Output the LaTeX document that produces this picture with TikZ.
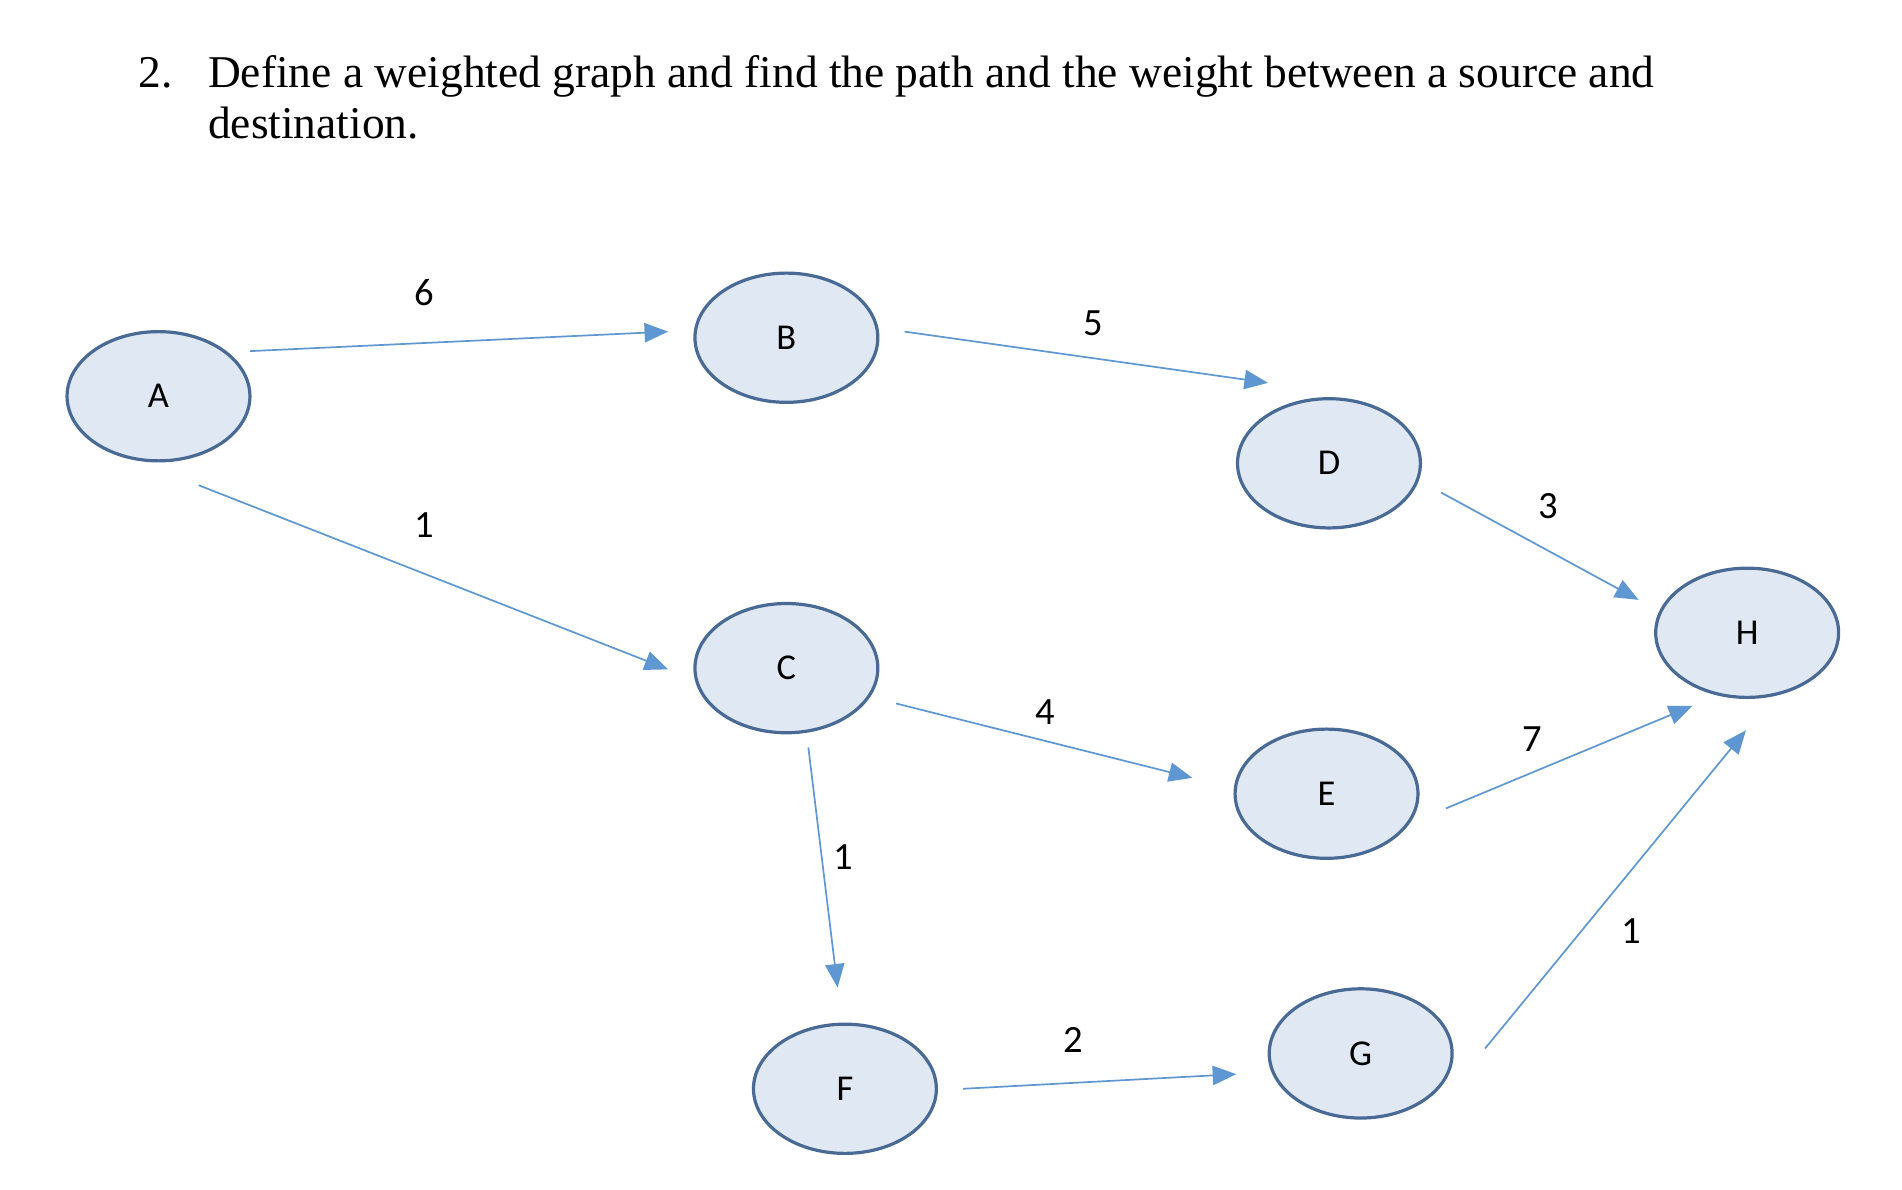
\documentclass[tikz,border=0pt]{standalone}
\usepackage{fontspec}
\setmainfont{Liberation Serif}
\newfontfamily\lblfont{Carlito}
\usetikzlibrary{arrows.meta,shapes.geometric}
\definecolor{nfill}{HTML}{DFE8F3}
\definecolor{ndraw}{HTML}{4A6A96}
\definecolor{edgec}{HTML}{5F97D2}
\newlength{\unitlen}\setlength{\unitlen}{0.01cm}
\tikzset{
 gnode/.style={ellipse,draw=ndraw,fill=nfill,line width=0.75pt,minimum width=150\unitlen,minimum height=106\unitlen,inner sep=0pt,font=\lblfont\fontsize{8.5pt}{10pt}\selectfont},
 edge/.style={draw=edgec,line width=0.4pt,-{Triangle[length=5.5pt,width=4.5pt]}},
 wlab/.style={font=\lblfont\fontsize{9pt}{10pt}\selectfont},
 title/.style={anchor=base west,inner sep=0pt,font=\fontsize{10.6pt}{12pt}\selectfont}
}
\begin{document}
\begin{tikzpicture}[x=0.01cm,y=-0.01cm]
\useasboundingbox (0,0) rectangle (1560,976);
\node[title] (n2) at (113,72) {2.};
\node[title] (t1) at (170,72) {Define a weighted graph and find the path and the weight between a source and};
\node[title] (t2) at (170,114) {destination.};
\node[gnode] (A) at (130,325) {A};
\node[gnode] (B) at (645,277) {B};
\node[gnode] (C) at (645,548) {C};
\node[gnode] (D) at (1090,380) {D};
\node[gnode] (E) at (1088,651) {E};
\node[gnode] (F) at (693,893) {F};
\node[gnode] (G) at (1116,864) {G};
\node[gnode] (H) at (1433,519) {H};
\coordinate (ab1) at (205,288); \coordinate (ab2) at (548,272);
\coordinate (bd1) at (742,272); \coordinate (bd2) at (1040,314);
\coordinate (ac1) at (163,398); \coordinate (ac2) at (548,549);
\coordinate (dh1) at (1182,404); \coordinate (dh2) at (1344,492);
\coordinate (ce1) at (735,577); \coordinate (ce2) at (978,638);
\coordinate (eh1) at (1186,663); \coordinate (eh2) at (1388,579);
\coordinate (cf1) at (663,613); \coordinate (cf2) at (687,810);
\coordinate (fg1) at (790,893); \coordinate (fg2) at (1014,881);
\coordinate (gh1) at (1218,860); \coordinate (gh2) at (1432,599);
\draw[edge] (ab1) -- (ab2);
\draw[edge] (bd1) -- (bd2);
\draw[edge] (ac1) -- (ac2);
\draw[edge] (dh1) -- (dh2);
\draw[edge] (ce1) -- (ce2);
\draw[edge] (eh1) -- (eh2);
\draw[edge] (cf1) -- (cf2);
\draw[edge] (fg1) -- (fg2);
\draw[edge] (gh1) -- (gh2);
\node[wlab] (w1) at (348,240) {6};
\node[wlab] (w2) at (897,265) {5};
\node[wlab] (w3) at (348,431) {1};
\node[wlab] (w4) at (1270,415) {3};
\node[wlab] (w5) at (857,584) {4};
\node[wlab] (w6) at (1257,606) {7};
\node[wlab] (w7) at (692,703) {1};
\node[wlab] (w8) at (880,853) {2};
\node[wlab] (w9) at (1338,764) {1};
\end{tikzpicture}
\end{document}
